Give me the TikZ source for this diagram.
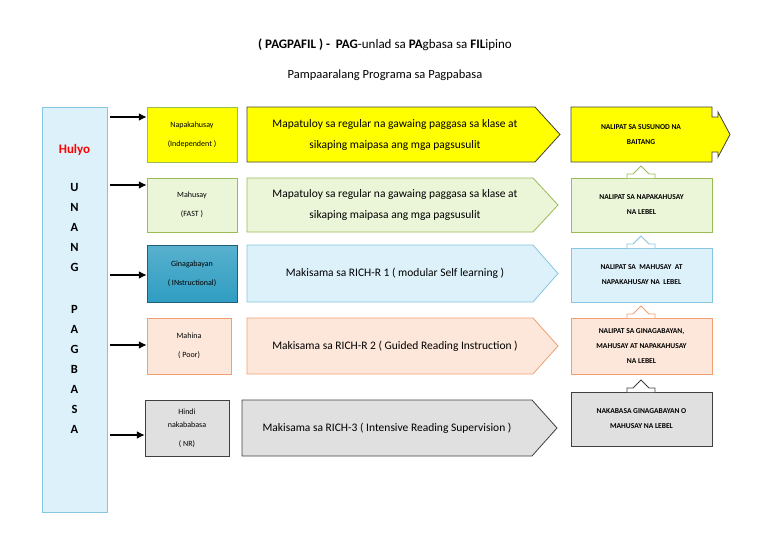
\documentclass[tikz,border=0pt]{standalone}
\usepackage{fontspec}
\usetikzlibrary{arrows.meta}
\setmainfont{Carlito}
\begin{document}
\begin{tikzpicture}[x=1pt,y=-1pt,
 lbl/.style={align=center,font=\fontsize{8}{19}\selectfont},
 big/.style={align=center,font=\fontsize{11.5}{21}\selectfont},
 rt/.style={align=center,font=\bfseries\fontsize{7.5}{15}\selectfont},
 arr/.style={-{Latex[length=8pt,width=8pt]},line width=2.5pt},
 up/.style={line width=0.8pt}]
\useasboundingbox (0,0) rectangle (768,543);
\definecolor{yel}{HTML}{FFFF00}\definecolor{yelB}{HTML}{404040}
\definecolor{grn}{HTML}{EBF5D7}\definecolor{grnB}{HTML}{9BBB59}
\definecolor{blu}{HTML}{DDF1FB}\definecolor{bluB}{HTML}{86C6E0}
\definecolor{tea}{HTML}{2F9DC2}\definecolor{teaB}{HTML}{1F5F78}
\definecolor{pch}{HTML}{FDE7DA}\definecolor{pchB}{HTML}{F0A070}
\definecolor{gry}{HTML}{E0E0E0}\definecolor{gryB}{HTML}{404040}
% titles
\node (t1) at (385,45) {\fontsize{13}{15}\selectfont\textbf{( PAGPAFIL ) -\ \ PAG}-unlad sa \textbf{PA}gbasa sa \textbf{FIL}ipino};
\node (t2) at (385,75) {\fontsize{12.5}{15}\selectfont Pampaaralang Programa sa Pagpabasa};
% left column
\draw[bluB,fill=blu,line width=0.8pt] (42,107) rectangle (107,512);
\node[text=red,font=\bfseries\fontsize{13}{15}\selectfont] (hul) at (74.5,150) {Hulyo};
\node[font=\bfseries\fontsize{12.5}{20}\selectfont,align=center,anchor=north] (ung) at (74.5,180) {U\\N\\A\\N\\G\\[22pt]P\\A\\G\\B\\A\\S\\A};
% level boxes
\node[draw=grnB,fill=yel,minimum width=90,minimum height=55,lbl] (l1) at (192,134.5) {Napakahusay\\(Independent )};
\node[draw=grnB,fill=grn,minimum width=90,minimum height=54,lbl] (l2) at (192,205) {Mahusay\\(FAST )};
\node[draw=teaB,top color=tea!80,bottom color=tea,minimum width=90,minimum height=57,lbl] (l3) at (192,273.5) {Ginagabayan\\( INstructional)};
\node[draw=pchB,fill=pch,minimum width=84,minimum height=56,lbl] (l4) at (189,346) {Mahina\\( Poor)};
\node[draw=gryB,fill=gry,minimum width=84,minimum height=56,lbl,font=\fontsize{8}{13}\selectfont] (l5) at (187,428) {Hindi\\nakababasa\\[6pt]( NR)};
% arrows from column
\coordinate (s1) at (110,117);\coordinate (s2) at (110,185);\coordinate (s3) at (110,275);
\coordinate (s4) at (110,345);\coordinate (s5) at (110,435);
\draw[arr] (s1) -- (l1.west|-s1);
\draw[arr] (s2) -- (l2.west|-s2);
\draw[arr] (s3) -- (l3.west|-s3);
\draw[arr] (s4) -- (l4.west|-s4);
\draw[arr] (s5) -- (l5.west|-s5);
% pentagon arrows
\draw[yelB,fill=yel,line width=0.8pt] (247,107)--(535,107)--(560,134.5)--(535,162)--(247,162)--cycle;
\node[big] (p1) at (395,134.5) {Mapatuloy sa regular na gawaing paggasa sa klase at\\sikaping maipasa ang mga pagsusulit};
\draw[grnB,fill=grn,line width=0.8pt] (247,178)--(533,178)--(558,205)--(533,232)--(247,232)--cycle;
\node[big] (p2) at (395,205) {Mapatuloy sa regular na gawaing paggasa sa klase at\\sikaping maipasa ang mga pagsusulit};
\draw[bluB,fill=blu,line width=0.8pt] (247,245)--(533,245)--(558,273.5)--(533,302)--(247,302)--cycle;
\node[big] (p3) at (395,273.5) {Makisama sa RICH-R 1 ( modular Self learning )};
\draw[pchB,fill=pch,line width=0.8pt] (247,318)--(533,318)--(558,346)--(533,374)--(247,374)--cycle;
\node[big] (p4) at (395,346) {Makisama sa RICH-R 2 ( Guided Reading Instruction )};
\draw[gryB,fill=gry,line width=0.8pt] (242,400)--(532,400)--(557,428)--(532,456)--(242,456)--cycle;
\node[big] (p5) at (387,428) {Makisama sa RICH-3 ( Intensive Reading Supervision )};
% right boxes
\draw[yelB,fill=yel,line width=0.8pt] (571,107)--(712,107)--(712,117)--(718,117)--(718,112)--(730,134.5)--(718,157)--(718,152)--(712,152)--(712,162)--(571,162)--cycle;
\node[rt] (r1) at (641,134.5) {NALIPAT SA SUSUNOD NA\\BAITANG};
\node[draw=grnB,fill=grn,minimum width=141,minimum height=54,rt] (r2) at (641.5,205) {NALIPAT SA NAPAKAHUSAY\\NA LEBEL};
\node[draw=bluB,fill=blu,minimum width=141,minimum height=54,rt] (r3) at (641.5,275) {NALIPAT SA\ \ MAHUSAY\ \ AT\\NAPAKAHUSAY NA\ \ LEBEL};
\node[draw=pchB,fill=pch,minimum width=141,minimum height=56,rt] (r4) at (641.5,346) {NALIPAT SA GINAGABAYAN,\\MAHUSAY AT NAPAKAHUSAY\\NA LEBEL};
\node[draw=gryB,fill=gry,minimum width=141,minimum height=54,rt] (r5) at (641.5,419) {NAKABASA GINAGABAYAN O\\MAHUSAY NA LEBEL};
% small up arrows
\foreach \b/\c/\col in {170/178/grnB,240/248/bluB,310/318/pchB,384/392/gryB}{
 \draw[up,\col,fill=white] (627,\c)--(627,\b+4)--(633,\b+4)--(641,\b-4)--(649,\b+4)--(655,\b+4)--(655,\c);
}
\end{tikzpicture}
\end{document}
